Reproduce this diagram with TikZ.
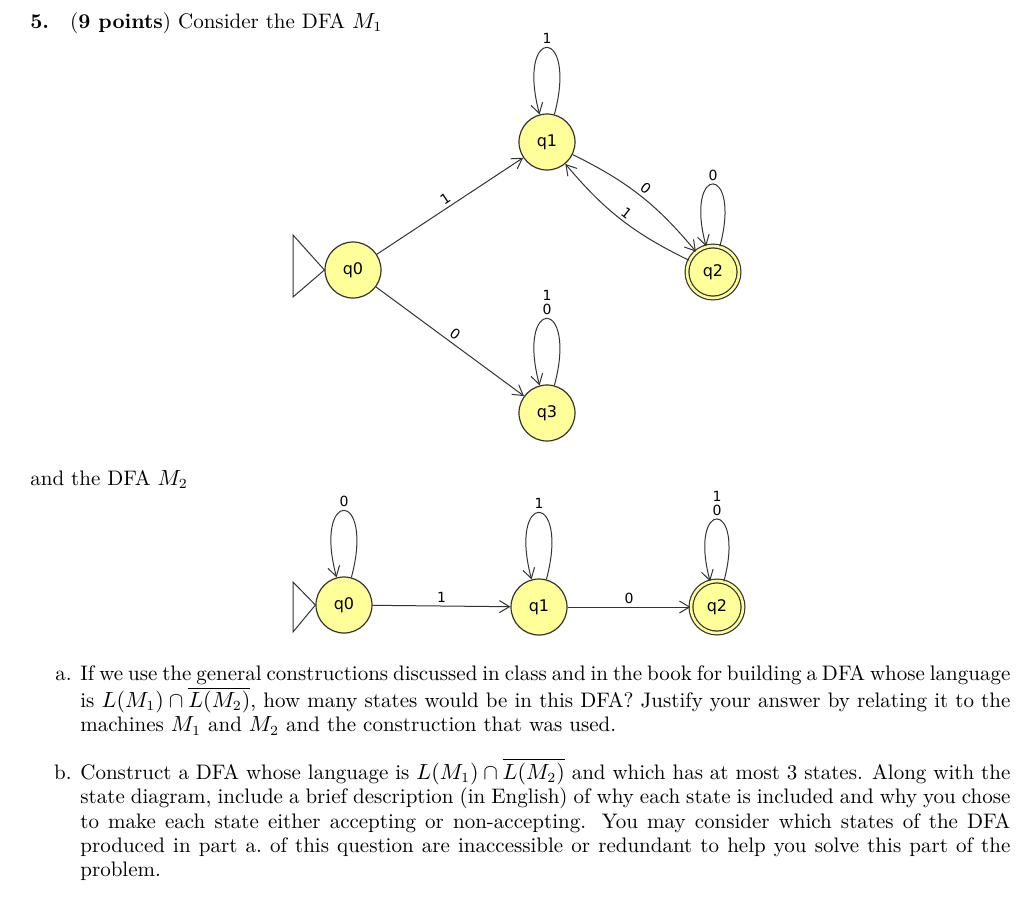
\documentclass[tikz,border=0pt]{standalone}
\usepackage{fontspec}
\usepackage{amsmath}
\newfontfamily\dvs{DejaVu Sans}
\usetikzlibrary{arrows.meta}
\definecolor{stfill}{RGB}{255,255,153}
\tikzset{
  st/.style={circle,draw=black!80,fill=stfill,line width=0.6pt,minimum size=28pt,inner sep=0pt,font=\dvs\fontsize{8}{9}\selectfont},
  acc/.style={st,double=stfill,double distance=1.3pt,minimum size=26pt},
  tr/.style={draw=black!80,line width=0.5pt,-{Straight Barb[length=5pt,width=6pt]}},
  selfloop/.style={tr,out=75,in=105,looseness=16},
  lbl/.style={font=\dvs\fontsize{7}{8}\selectfont,inner sep=1.5pt},
  txt/.style={anchor=north west,inner sep=0pt,font=\fontsize{10.5}{12.2}\selectfont},
  para/.style={txt,text width=465pt,align=justify},
}
\begin{document}
\begin{tikzpicture}[x=0.5pt,y=-0.5pt]
\useasboundingbox (0,0) rectangle (1030,902);
\node[txt] (title) at (30,12) {\textbf{5.}\hspace{1em}(\textbf{9 points}) Consider the DFA $M_1$};
% M1
\node[st] (a0) at (353,270) {q0};
\node[st] (a1) at (547,142) {q1};
\node[acc] (a2) at (713,272) {q2};
\node[st] (a3) at (547,413) {q3};
\coordinate (t1) at (293,235); \coordinate (t2) at (293,297);
\draw[black!80,line width=0.5pt] (t1) -- (a0.west) -- (t2) -- cycle;
\draw[tr] (a0) -- node[lbl,sloped,above] {1} (a1);
\draw[tr] (a0) -- node[lbl,sloped,above] {0} (a3);
\draw[tr] (a1) to[bend left=12] node[lbl,sloped,above] {0} (a2);
\draw[tr] (a2) to[bend left=12] node[lbl,sloped,above] {1} (a1);
\draw[selfloop] (a1) to node[lbl,above] {1} (a1);
\draw[selfloop] (a2) to node[lbl,above] {0} (a2);
\draw[selfloop] (a3) to node[lbl,above,align=center] {1\\[-1pt]0} (a3);
\node[txt] (and) at (30,470) {and the DFA $M_2$};
% M2
\node[st] (b0) at (344,605) {q0};
\node[st] (b1) at (539,607) {q1};
\node[acc] (b2) at (717,607) {q2};
\coordinate (u1) at (293,582); \coordinate (u2) at (293,632);
\draw[black!80,line width=0.5pt] (u1) -- (b0.west) -- (u2) -- cycle;
\draw[tr] (b0) -- node[lbl,above] {1} (b1);
\draw[tr] (b1) -- node[lbl,above] {0} (b2);
\draw[selfloop] (b0) to node[lbl,above] {0} (b0);
\draw[selfloop] (b1) to node[lbl,above] {1} (b1);
\draw[selfloop] (b2) to node[lbl,above,align=center] {1\\[-1pt]0} (b2);
% questions
\node[para] (pa) at (80,665) {If we use the general constructions discussed in class and in the book for building a DFA whose language\linebreak is $L(M_1)\cap\overline{L(M_2)}$, how many states would be in this DFA? Justify your answer by relating it to the\linebreak machines $M_1$ and $M_2$ and the construction that was used.};
\node[txt,anchor=base east] (la) at ([xshift=-4pt]pa.base west) {a.};
\node[para] (pb) at (80,758) {Construct a DFA whose language is $L(M_1)\cap\overline{L(M_2)}$ and which has at most 3 states. Along with the\linebreak state diagram, include a brief description (in English) of why each state is included and why you chose\linebreak to make each state either accepting or non-accepting. You may consider which states of the DFA\linebreak produced in part a.\ of this question are inaccessible or redundant to help you solve this part of the\linebreak problem.};
\node[txt,anchor=base east] (lb) at ([xshift=-4pt]pb.base west) {b.};
\end{tikzpicture}
\end{document}
